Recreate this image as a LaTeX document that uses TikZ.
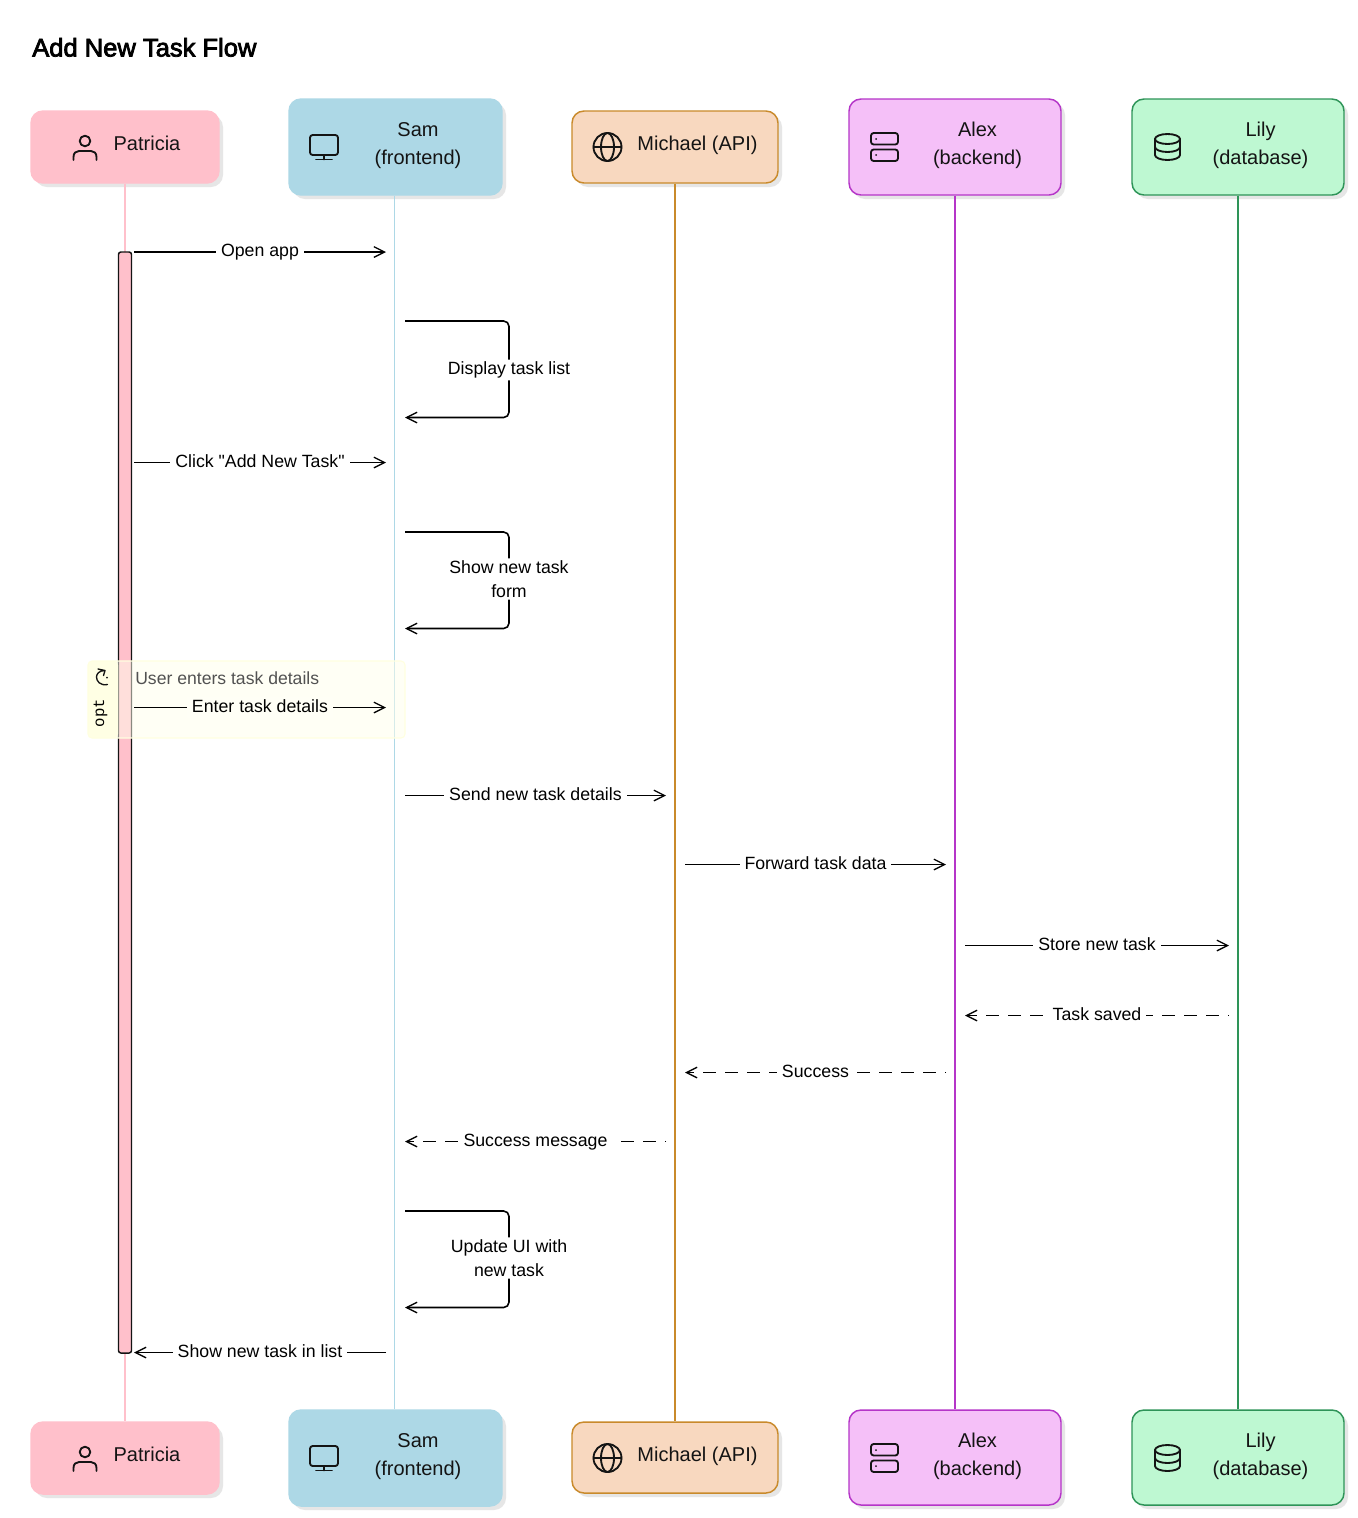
\documentclass[tikz,border=0pt]{standalone}
\usepackage{fontspec}
\setmainfont{Liberation Sans}
\setmonofont{Liberation Mono}
\newfontfamily\lblfont{Liberation Sans}
\newfontfamily\titlefont[FakeBold=3]{Liberation Sans}
\usetikzlibrary{arrows.meta,shadows}
\definecolor{ptfill}{HTML}{FFC0CB}
\definecolor{smfill}{HTML}{ADD8E6}
\definecolor{mifill}{HTML}{F8D8BF}
\definecolor{midraw}{HTML}{C98A2B}
\definecolor{alfill}{HTML}{F5C0F8}
\definecolor{aldraw}{HTML}{B535C8}
\definecolor{lyfill}{HTML}{BEF8D2}
\definecolor{lydraw}{HTML}{2E9458}
\definecolor{shadowgrey}{HTML}{E6E6E6}
\definecolor{icondark}{HTML}{141414}
\definecolor{optstrip}{HTML}{FFFFE4}
\definecolor{optwash}{HTML}{FFFFEC}
\definecolor{optbg}{HTML}{FFFFF6}
\definecolor{optedge}{HTML}{FFFFE0}
\newlength{\pxu}\setlength{\pxu}{0.75pt}
\tikzset{
  actor/.style={rectangle,rounded corners=9pt,inner sep=0pt,line width=1.1pt,
    drop shadow={shadow xshift=3pt,shadow yshift=-3pt,fill=shadowgrey,opacity=1}},
  tall/.style={minimum width=213\pxu,minimum height=96\pxu},
  short/.style={minimum width=188\pxu,minimum height=72\pxu},
  actortext/.style={font=\fontsize{15}{21}\selectfont,align=center,inner sep=0pt,text=icondark},
  life/.style={line width=1.1pt},
  msg/.style={line width=1.2pt,draw=black,-{Straight Barb[length=8pt,width=8pt,line width=1pt]}},
  reply/.style={msg,dash pattern=on 9.5pt off 7pt,dash phase=8.8pt},
  lblbase/.style={fill=white,font=\fontsize{13.3}{18}\selectfont,align=center,inner xsep=3.7pt,inner ysep=1.5pt,text=black},
  lbl/.style={lblbase,text height=10pt,text depth=3pt},
  selflbl/.style={lblbase,yshift=.95pt},
  icon/.style={line width=1.4pt,draw=icondark,line join=round,line cap=round},
  personicon/.pic={
    \draw[icon] (0,-5) circle[radius=5.3];
    \draw[icon] (-11.5,14) -- (-11.5,11) .. controls (-11.5,7) and (-9,5) .. (-6,5) -- (6,5) .. controls (9,5) and (11.5,7) .. (11.5,11) -- (11.5,14);
  },
  monitoricon/.pic={
    \draw[icon,rounded corners=2pt] (-14,-10) rectangle (14,10);
    \draw[icon] (0,10) -- (0,14.5) (-8,14.5) -- (8,14.5);
  },
  globeicon/.pic={
    \draw[icon] (0,0) circle[radius=14];
    \draw[icon] (0,0) ellipse[x radius=6.5,y radius=14];
    \draw[icon] (-14,0) -- (14,0);
  },
  servericon/.pic={
    \draw[icon,rounded corners=2pt] (-13.5,-14) rectangle (13.5,-2.5);
    \draw[icon,rounded corners=2pt] (-13.5,2.5) rectangle (13.5,14);
    \fill[icondark] (-8.5,-8) circle[radius=1] (-8.5,8) circle[radius=1];
  },
  dbicon/.pic={
    \draw[icon] (0,-8) ellipse[x radius=12.5,y radius=5];
    \draw[icon] (-12.5,-8) -- (-12.5,8) arc[start angle=180,end angle=0,x radius=12.5,y radius=5] -- (12.5,-8);
    \draw[icon] (-12.5,0) arc[start angle=180,end angle=0,x radius=12.5,y radius=5];
  }
}
\begin{document}
\begin{tikzpicture}[x=0.75pt,y=-0.75pt]
\useasboundingbox (0,0) rectangle (1358,1518);
\fill[white] (0,0) rectangle (1358,1518);
\node[anchor=base west,inner sep=0pt,font=\titlefont\fontsize{19.15}{22}\selectfont] (title) at (32,56.5) {Add New Task Flow};

% header boxes
\node[actor,short,fill=ptfill,draw=ptfill] (patT) at (125,147) {};
\node[actor,tall,fill=smfill,draw=smfill] (samT) at (395.5,147) {};
\node[actor,minimum width=206\pxu,minimum height=72\pxu,fill=mifill,draw=midraw] (micT) at (675,147) {};
\node[actor,minimum width=212\pxu,minimum height=96\pxu,fill=alfill,draw=aldraw] (aleT) at (955,147) {};
\node[actor,minimum width=212\pxu,minimum height=96\pxu,fill=lyfill,draw=lydraw] (lilT) at (1238,147) {};
% footer boxes
\node[actor,short,fill=ptfill,draw=ptfill] (patB) at (125,1458) {};
\node[actor,tall,fill=smfill,draw=smfill] (samB) at (395.5,1458) {};
\node[actor,minimum width=206\pxu,minimum height=71\pxu,fill=mifill,draw=midraw] (micB) at (675,1457.5) {};
\node[actor,minimum width=212\pxu,minimum height=95\pxu,fill=alfill,draw=aldraw] (aleB) at (955,1457.5) {};
\node[actor,minimum width=212\pxu,minimum height=95\pxu,fill=lyfill,draw=lydraw] (lilB) at (1238,1457.5) {};

% box texts
\node[actortext] (patTt) at (147,143) {Patricia};
\node[actortext] (samTt) at (418,145.5) {Sam\\(frontend)};
\node[actortext] (micTt) at (697.5,145.5) {Michael (API)};
\node[actortext] (aleTt) at (977.5,145) {Alex\\(backend)};
\node[actortext] (lilTt) at (1260.5,145) {Lily\\(database)};
\node[actortext] (patBt) at (147,1454) {Patricia};
\node[actortext] (samBt) at (418,1456.5) {Sam\\(frontend)};
\node[actortext] (micBt) at (697.5,1456) {Michael (API)};
\node[actortext] (aleBt) at (977.5,1456) {Alex\\(backend)};
\node[actortext] (lilBt) at (1260.5,1456) {Lily\\(database)};

% icons
\pic at (85,146) {personicon};
\pic at (324,145) {monitoricon};
\pic at (607.5,147) {globeicon};
\pic at (884.5,147) {servericon};
\pic at (1167.5,147) {dbicon};
\pic at (85,1457) {personicon};
\pic at (324,1456) {monitoricon};
\pic at (607.5,1458) {globeicon};
\pic at (884.5,1458) {servericon};
\pic at (1167.5,1458) {dbicon};

% lifelines
\draw[life,draw=ptfill] (patT.south) -- (patB.north);
\draw[life,draw=smfill] ([xshift=-.6pt]samT.south) -- ([xshift=-.6pt]samB.north);
\draw[life,draw=midraw] (micT.south) -- (micB.north);
\draw[life,draw=aldraw] (aleT.south) -- (aleB.north);
\draw[life,draw=lydraw] (lilT.south) -- (lilB.north);

% activation bar
\node[rectangle,rounded corners=1.8pt,fill=ptfill,draw=icondark,line width=1.1pt,inner sep=0pt,minimum width=13\pxu,minimum height=1101\pxu] (bar) at (125,802.5) {};

% opt block
\fill[fill=optwash,opacity=.5,rounded corners=3pt] (88,661) rectangle (405,738);
\fill[fill=optstrip,rounded corners=3pt] (88,661) -- (118,661) -- (118,738) -- (88,738) -- cycle;
\draw[draw=optedge,line width=.8pt,rounded corners=3pt] (88,661) rectangle (405,738);
\node[rotate=90,font=\ttfamily\fontsize{11.8}{14}\selectfont,inner sep=0pt] (optlabel) at (100.5,713) {opt};
\draw[line width=1pt,draw=icondark,line cap=round,line join=round] (107.5,684.5) .. controls (100,686) and (96.5,681) .. (96.5,677) .. controls (96.5,674) and (99,670.5) .. (105,670.5) (98,669) -- (105,670.5) -- (103.5,675.5);
\fill[icondark] (107,677.5) circle[radius=1];
\node[anchor=west,inner sep=0pt,font=\fontsize{13.2}{18}\selectfont,text=black!68] (opttext) at (135,678) {User enters task details};

% message end points
\coordinate (m1a) at (134,252);   \coordinate (m1b) at (386,252);
\coordinate (s1a) at (405,321);   \coordinate (s1b) at (509,321);
\coordinate (s1c) at (509,417.5); \coordinate (s1d) at (405,417.5);
\coordinate (m2a) at (134,462.5); \coordinate (m2b) at (386,462.5);
\coordinate (s2a) at (405,532);   \coordinate (s2b) at (509,532);
\coordinate (s2c) at (509,628.5); \coordinate (s2d) at (405,628.5);
\coordinate (m3a) at (134,707.5); \coordinate (m3b) at (386,707.5);
\coordinate (m4a) at (405,795.5); \coordinate (m4b) at (666,795.5);
\coordinate (m5a) at (685,864.5); \coordinate (m5b) at (946,864.5);
\coordinate (m6a) at (965,945.5); \coordinate (m6b) at (1229,945.5);
\coordinate (r1a) at (1229,1015.5); \coordinate (r1b) at (965,1015.5);
\coordinate (r2a) at (946,1072.5);  \coordinate (r2b) at (685,1072.5);
\coordinate (r3a) at (666,1141.5);  \coordinate (r3b) at (405,1141.5);
\coordinate (s3a) at (405,1211);  \coordinate (s3b) at (509,1211);
\coordinate (s3c) at (509,1307.5);\coordinate (s3d) at (405,1307.5);
\coordinate (m7a) at (386,1352.5);\coordinate (m7b) at (134,1352.5);

% messages
\draw[msg] (m1a) -- node[lbl] (l1) {Open app} (m1b);
\draw[msg,rounded corners=4pt] (s1a) -- (s1b) -- node[lblbase,yshift=-.55pt] (l2) {Display task list} (s1c) -- (s1d);
\draw[msg] (m2a) -- node[lbl] (l3) {\lblfont Click "Add New Task"} (m2b);
\draw[msg,rounded corners=4pt] (s2a) -- (s2b) -- node[selflbl] (l4) {Show new task\\form} (s2c) -- (s2d);
\draw[msg] (m3a) -- node[lbl,fill=optbg] (l5) {Enter task details} (m3b);
\draw[msg] (m4a) -- node[lbl] (l6) {Send new task details} (m4b);
\draw[msg] (m5a) -- node[lbl] (l7) {Forward task data} (m5b);
\draw[msg] (m6a) -- node[lbl] (l8) {Store new task} (m6b);
\draw[reply] (r1a) -- node[lbl] (l9) {Task saved} (r1b);
\draw[reply] (r2a) -- node[lbl] (l10) {Success} (r2b);
\draw[reply] (r3a) -- node[lbl] (l11) {Success message} (r3b);
\draw[msg,rounded corners=4pt] (s3a) -- (s3b) -- node[selflbl] (l12) {Update UI with\\new task} (s3c) -- (s3d);
\draw[msg] (m7a) -- node[lbl] (l13) {Show new task in list} (m7b);
\end{tikzpicture}
\end{document}
